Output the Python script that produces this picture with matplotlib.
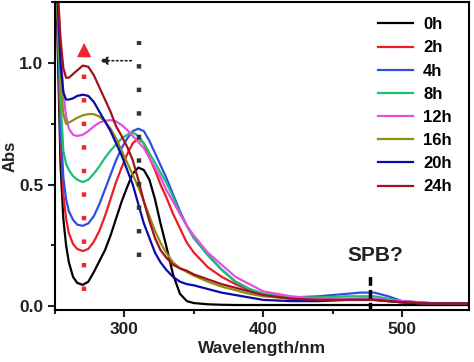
import matplotlib
matplotlib.use("Agg")
import matplotlib.pyplot as plt
from matplotlib.ticker import MultipleLocator, FormatStrFormatter

plt.rcParams["font.family"] = ["Liberation Sans", "DejaVu Sans"]
plt.rcParams["font.weight"] = "bold"

wavelength = [250, 252, 254, 256, 258, 260, 263, 266, 270, 274, 278, 282, 286, 290,
              294, 298, 302, 306, 310, 314, 318, 322, 326, 330, 335, 340, 345, 350,
              360, 370, 380, 390, 400, 420, 440, 460, 470, 480, 490, 500, 520, 548]

labels = ["0h", "2h", "4h", "8h", "12h", "16h", "20h", "24h"]
colors = ["#000000", "#ec1c24", "#2f4fe0", "#1dbf74", "#e44fe0", "#8f8f12", "#0a0aa8", "#a0121e"]

abs_0h = [1.55, 1.05, 0.58, 0.36, 0.25, 0.18, 0.12, 0.095, 0.087, 0.10, 0.14, 0.185, 0.23, 0.29,
          0.36, 0.43, 0.49, 0.545, 0.57, 0.56, 0.52, 0.44, 0.34, 0.25, 0.13, 0.05, 0.02, 0.012,
          0.007, 0.005, 0.004, 0.004, 0.004, 0.004, 0.004, 0.004, 0.004, 0.004, 0.004, 0.004, 0.004, 0.004]
abs_2h = [1.6, 1.15, 0.68, 0.46, 0.36, 0.30, 0.255, 0.235, 0.226, 0.235, 0.265, 0.31, 0.37, 0.44,
          0.51, 0.57, 0.625, 0.67, 0.69, 0.67, 0.61, 0.56, 0.50, 0.45, 0.38, 0.32, 0.26, 0.22,
          0.16, 0.12, 0.09, 0.065, 0.045, 0.03, 0.025, 0.025, 0.03, 0.03, 0.022, 0.015, 0.01, 0.01]
abs_4h = [1.6, 1.2, 0.75, 0.53, 0.44, 0.39, 0.355, 0.335, 0.33, 0.34, 0.37, 0.42, 0.48, 0.54,
          0.60, 0.65, 0.69, 0.72, 0.73, 0.72, 0.68, 0.63, 0.58, 0.53, 0.46, 0.39, 0.33, 0.28,
          0.21, 0.15, 0.10, 0.07, 0.05, 0.035, 0.04, 0.05, 0.055, 0.055, 0.04, 0.02, 0.012, 0.01]
abs_8h = [1.6, 1.2, 0.85, 0.64, 0.585, 0.56, 0.535, 0.52, 0.51, 0.52, 0.545, 0.575, 0.61, 0.64,
          0.665, 0.69, 0.705, 0.715, 0.70, 0.67, 0.63, 0.59, 0.55, 0.51, 0.45, 0.38, 0.33, 0.28,
          0.21, 0.15, 0.10, 0.07, 0.05, 0.035, 0.035, 0.04, 0.04, 0.04, 0.03, 0.02, 0.012, 0.01]
abs_12h = [1.6, 1.3, 1.05, 0.88, 0.78, 0.73, 0.705, 0.70, 0.705, 0.72, 0.74, 0.755, 0.763, 0.765,
           0.76, 0.745, 0.725, 0.70, 0.675, 0.65, 0.61, 0.57, 0.53, 0.48, 0.43, 0.38, 0.33, 0.29,
           0.22, 0.17, 0.12, 0.09, 0.06, 0.04, 0.03, 0.03, 0.03, 0.03, 0.025, 0.02, 0.012, 0.01]
abs_16h = [1.6, 1.2, 0.93, 0.79, 0.75, 0.755, 0.765, 0.775, 0.785, 0.79, 0.79, 0.78, 0.76, 0.73,
           0.69, 0.64, 0.59, 0.54, 0.49, 0.43, 0.37, 0.31, 0.26, 0.22, 0.18, 0.155, 0.14, 0.125,
           0.10, 0.08, 0.065, 0.05, 0.04, 0.03, 0.025, 0.025, 0.025, 0.025, 0.02, 0.015, 0.01, 0.01]
abs_20h = [1.6, 1.25, 1.0, 0.88, 0.85, 0.85, 0.855, 0.865, 0.87, 0.865, 0.84, 0.80, 0.76, 0.72,
           0.67, 0.62, 0.56, 0.50, 0.42, 0.34, 0.28, 0.22, 0.18, 0.15, 0.12, 0.10, 0.09, 0.085,
           0.07, 0.055, 0.045, 0.035, 0.025, 0.02, 0.02, 0.025, 0.025, 0.025, 0.02, 0.015, 0.01, 0.01]
abs_24h = [1.6, 1.3, 1.1, 0.98, 0.94, 0.94, 0.955, 0.97, 0.99, 0.985, 0.95, 0.90, 0.85, 0.80,
           0.74, 0.70, 0.655, 0.60, 0.52, 0.43, 0.35, 0.28, 0.23, 0.20, 0.17, 0.155, 0.145, 0.13,
           0.11, 0.09, 0.075, 0.06, 0.045, 0.03, 0.025, 0.025, 0.025, 0.025, 0.02, 0.015, 0.01, 0.01]
series = [abs_0h, abs_2h, abs_4h, abs_8h, abs_12h, abs_16h, abs_20h, abs_24h]

# guide lines (wavelength, abs range)
red_line_x, red_line_y = 271, (0.06, 1.02)
gray_line_x, gray_line_y = 310.5, (0.2, 1.09)
spb_x, spb_y = 476.5, (-0.02, 0.127)

fig = plt.figure(figsize=(4.74, 3.62), dpi=100)
ax = fig.add_axes([0.116, 0.144, 0.873, 0.850])

for y, c, lab in zip(series, colors, labels):
    ax.plot(wavelength, y, color=c, lw=1.6, label=lab)

ax.plot([red_line_x, red_line_x], red_line_y, color="#f0282d", lw=3.2, ls=(0, (1, 4.3)),
        dash_capstyle="butt")
ax.annotate("", xy=(red_line_x, 1.095), xytext=(red_line_x, 1.03),
            arrowprops=dict(arrowstyle="-|>", color="#f0282d", lw=1, mutation_scale=22))
ax.plot([gray_line_x, gray_line_x], gray_line_y, color="#333333", lw=3.2, ls=(0, (1, 4.3)),
        dash_capstyle="butt")
ax.annotate("", xy=(280, 1.01), xytext=(307, 1.01),
            arrowprops=dict(arrowstyle="-|>", color="#222222", lw=1.2, ls=":",
                            mutation_scale=12))
ax.plot([spb_x, spb_x], spb_y, color="black", lw=2.5, ls=(0, (2.5, 1.2)))
ax.text(481, 0.17, "SPB?", fontsize=15, fontweight="bold", ha="center", va="bottom",
        color="#222222")

ax.set_xlim(250, 548)
ax.set_ylim(-0.016, 1.251)
ax.xaxis.set_major_locator(MultipleLocator(100))
ax.xaxis.set_minor_locator(MultipleLocator(50))
ax.yaxis.set_major_locator(MultipleLocator(0.5))
ax.yaxis.set_minor_locator(MultipleLocator(0.25))
ax.yaxis.set_major_formatter(FormatStrFormatter("%.1f"))
ax.tick_params(which="both", direction="out", width=1.5, labelsize=12.5, colors="#222222")
ax.tick_params(which="major", length=5)
ax.tick_params(which="minor", length=3)
for s in ax.spines.values():
    s.set_linewidth(1.5)
ax.set_xlabel("Wavelength/nm", fontsize=12.5, fontweight="bold", labelpad=3, color="#222222")
ax.set_ylabel("Abs", fontsize=12, fontweight="bold", labelpad=1, color="#222222")

leg = ax.legend(loc="upper right", bbox_to_anchor=(0.995, 1.0), frameon=False, fontsize=12,
                handlelength=2.1, labelspacing=0.49, handletextpad=0.6)
for t in leg.get_texts():
    t.set_fontweight("bold")

fig.savefig("out.png", dpi=100)
